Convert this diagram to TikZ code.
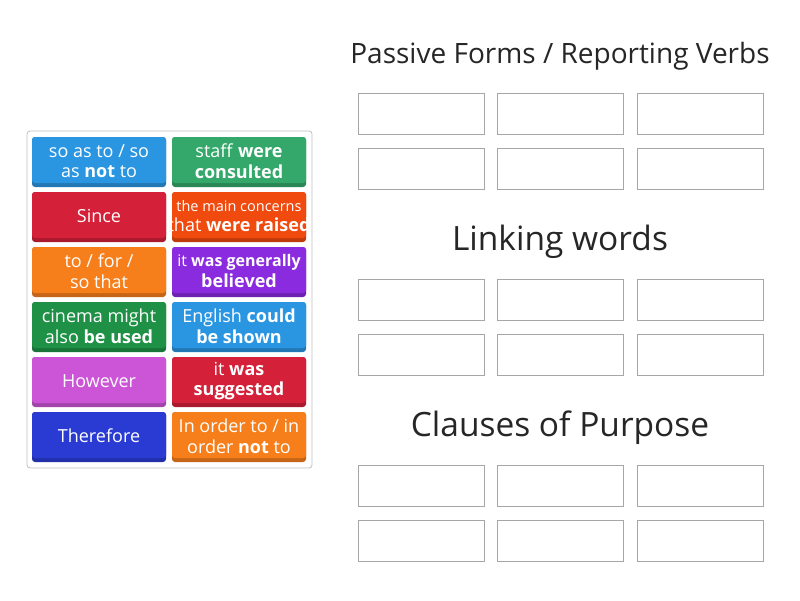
\documentclass[tikz,border=0pt]{standalone}
\usepackage{fontspec}
\setmainfont{Open Sans}
\definecolor{cblue}{HTML}{2A96E2}
\definecolor{cgreen}{HTML}{33A86A}
\definecolor{cred}{HTML}{D42038}
\definecolor{cored}{HTML}{F04A0E}
\definecolor{corange}{HTML}{F77F1B}
\definecolor{cpurple}{HTML}{8A2BE0}
\definecolor{cdgreen}{HTML}{1F9146}
\definecolor{cpink}{HTML}{CB55D6}
\definecolor{cdblue}{HTML}{2A3BD4}
\tikzset{
  ttext/.style={text=white, align=center, font=\fontsize{18}{20.5}\selectfont, inner sep=0pt},
  slot/.style={draw=black!35, line width=0.8pt, fill=white},
  title/.style={font=\fontsize{28}{32}\selectfont, text=black!85, inner sep=0pt}
}
\newcommand{\tileat}[5]{% x y color name text
  \fill[rounded corners=3pt, #3!80!black] (#1,#2) rectangle ++(134,50);
  \fill[rounded corners=3pt, #3] (#1,#2) rectangle ++(134,46);
  \node[ttext] (#4) at (#1+67,#2+24) {#5};
}
\begin{document}
\begin{tikzpicture}[x=1pt,y=-1pt]
\useasboundingbox (0,0) rectangle (800,600);
\fill[white] (0,0) rectangle (800,600);
\draw[black!25, rounded corners=3pt, line width=0.8pt, fill=white] (27,131) rectangle (312,468);
\tileat{32}{137}{cblue}{t1}{so as to / so\\as \textbf{not} to}
\tileat{172}{137}{cgreen}{t2}{staff \textbf{were}\\\textbf{consulted}}
\tileat{32}{192}{cred}{t3}{Since}
\tileat{172}{192}{cored}{t4}{\fontsize{14.5}{16.5}\selectfont the main concerns\\that \textbf{were raised}}
\tileat{32}{247}{corange}{t5}{to / for /\\so that}
\tileat{172}{247}{cpurple}{t6}{\fontsize{16}{17}\selectfont it \textbf{was generally}\\\textbf{believed}}
\tileat{32}{302}{cdgreen}{t7}{cinema might\\also \textbf{be used}}
\tileat{172}{302}{cblue}{t8}{English \textbf{could}\\\textbf{be shown}}
\tileat{32}{357}{cpink}{t9}{However}
\tileat{172}{357}{cred}{t10}{it \textbf{was}\\\textbf{suggested}}
\tileat{32}{412}{cdblue}{t11}{Therefore}
\tileat{172}{412}{corange}{t12}{In order to / in\\order \textbf{not} to}
\node[title] (h1) at (560,56) {Passive Forms / Reporting Verbs};
\node[title, font=\fontsize{33.5}{38}\selectfont] (h2) at (560,242) {Linking words};
\node[title, font=\fontsize{33.5}{38}\selectfont] (h3) at (560,428) {Clauses of Purpose};
\foreach \y in {93,148,279,334,465,520}
  \foreach \x in {358,497,637}
    \draw[slot] (\x,\y) rectangle ++(126,41);
\end{tikzpicture}
\end{document}
